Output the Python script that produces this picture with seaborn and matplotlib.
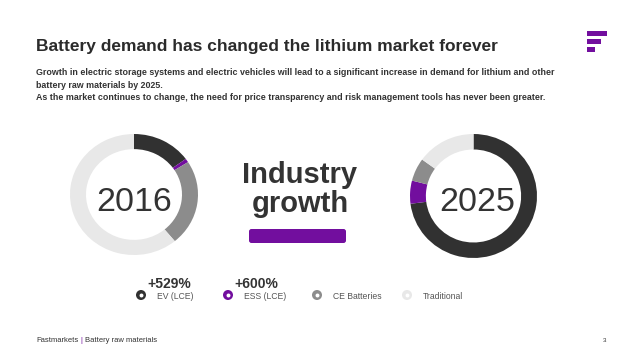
import numpy as np
import pandas as pd
import seaborn as sns
import matplotlib.pyplot as plt
from matplotlib.patches import FancyBboxPatch, Rectangle

# data
categories = ["EV (LCE)", "ESS (LCE)", "CE Batteries", "Traditional"]
share_2016 = [15, 1, 23, 61]
share_2025 = [73, 6, 6, 15]
growth_labels = ["+529%", "+600%", "", ""]
years = ["2016", "2025"]

title = "Battery demand has changed the lithium market forever"
subtitle = [
    "Growth in electric storage systems and electric vehicles will lead to a significant increase in demand for lithium and other",
    "battery raw materials by 2025.",
    "As the market continues to change, the need for price transparency and risk management tools has never been greater.",
]
footer = ["Fastmarkets", "|", "Battery raw materials"]

palette = sns.color_palette(["#313131", "#720e9e", "#8c8c8c", "#e8e8e8"])
purple = "#720e9e"
text_dark = "#2b2b2b"

sns.set_theme(style="white")
plt.rcParams["font.family"] = ["Liberation Sans", "DejaVu Sans"]

W, H = 638, 359
fig = plt.figure(figsize=(W / 100, H / 100), dpi=100)

# overlay in pixel coords
ov = fig.add_axes([0, 0, 1, 1])
ov.set_xlim(0, W)
ov.set_ylim(H, 0)
ov.axis("off")


def donut(values, x0, x1, y0, y1):
    ax = fig.add_axes([x0 / W, (H - y1) / H, (x1 - x0) / W, (y1 - y0) / H])
    ax.pie(values, colors=palette, startangle=90, counterclock=False,
           wedgeprops=dict(width=0.25, linewidth=0))
    ax.set_aspect("auto")
    ax.set_xlim(-1, 1)
    ax.set_ylim(-1, 1)
    ax.axis("off")
    return ax


donut(share_2016, 70, 198, 134, 255)
donut(share_2025, 410, 537, 134, 258)

# headline text
ov.text(36, 51, title, fontsize=12.5, fontweight="bold", color=text_dark, va="baseline")
for i, line in enumerate(subtitle):
    ov.text(36, 75 + i * 12.5, line, fontsize=6.4, fontweight="bold", color="#333333", va="baseline")

# year labels in the donuts
ov.text(134, 211, years[0], fontsize=24.5, color="#333333", ha="center", va="baseline")
ov.text(477, 211, years[1], fontsize=24.5, color="#333333", ha="center", va="baseline")

# centre block
ov.text(300, 183, "Industry", fontsize=21, fontweight="bold", color="#333333", ha="center", va="baseline")
ov.text(300, 212, "growth", fontsize=21, fontweight="bold", color="#333333", ha="center", va="baseline")
ov.add_patch(FancyBboxPatch((249, 229), 97, 14, boxstyle="round,pad=0,rounding_size=2.5",
                            facecolor=purple, edgecolor="none"))

# legend
leg = pd.DataFrame({"x": [141, 228, 317, 407], "y": [295] * 4, "cat": categories})
sns.scatterplot(data=leg, x="x", y="y", hue="cat", palette=palette, ax=ov, s=52,
                marker="o", legend=False, zorder=3, linewidth=0)
for (_, r), lab, g in zip(leg.iterrows(), categories, growth_labels):
    ov.scatter(r["x"], r["y"], s=8, color="white", zorder=4, linewidth=0)
    ov.text(r["x"] + 16, 299, lab, fontsize=6.2, color="#555555", va="baseline")
    if g:
        ov.text(r["x"] + 6, 288, g, fontsize=10, fontweight="bold", color="#333333", va="baseline")

# logo
for x0, x1, y0, y1 in [(587, 607, 31, 35.5), (587, 601, 39, 43.5), (587, 595, 47, 51.5)]:
    ov.add_patch(Rectangle((x0, y0), x1 - x0, y1 - y0, facecolor=purple, edgecolor="none"))

# footer, pieces placed one after the other
renderer = fig.canvas.get_renderer()
x = 36
for piece, col in zip(footer, ["#333333", purple, "#333333"]):
    t = ov.text(x, 342, piece, fontsize=5.5, color=col, va="baseline")
    x += t.get_window_extent(renderer).width + 2.2
ov.text(603, 342, "3", fontsize=4.5, color="#333333", va="baseline")

fig.savefig("out.png", dpi=100)
